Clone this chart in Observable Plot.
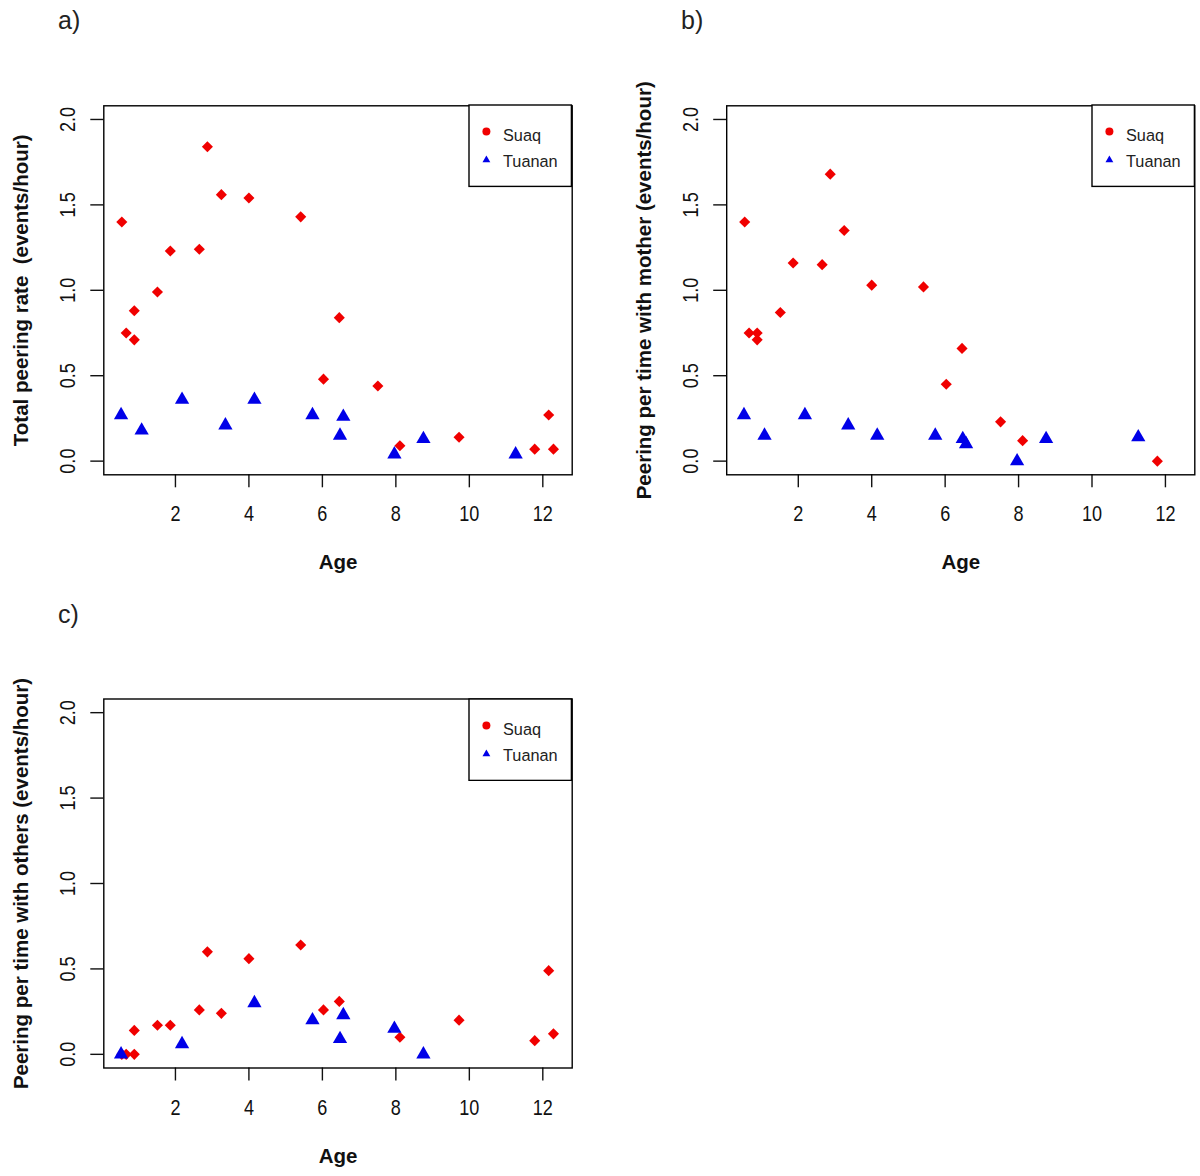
<!DOCTYPE html>
<html>
<head>
<meta charset="utf-8">
<script src="https://cdn.jsdelivr.net/npm/d3@7"></script>
<script src="https://cdn.jsdelivr.net/npm/@observablehq/plot@0.6"></script>
<style>
  body { margin: 0; background: #fff; }
  #page { position: relative; width: 1200px; height: 1176px; overflow: hidden; }
  #page > svg { position: absolute; }
</style>
</head>
<body>
<div id="page"></div>
<script>
// ages of the Suaq and Tuanan immatures (years)
const suaqAge   = [0.54, 0.66, 0.88, 0.88, 1.51, 1.86, 2.65, 2.87, 3.25, 4.00, 5.41, 6.03, 6.46, 7.51, 8.11, 9.72, 11.78, 12.16, 12.29]
const tuananAge = [0.52, 1.08, 2.18, 3.36, 4.15, 5.73, 6.48, 6.57, 7.96, 8.75, 11.26]

// peering rates (events/hour), null = not plotted
const suaqTotal    = [1.40, 0.75, 0.88, 0.71, 0.99, 1.23, 1.24, 1.84, 1.56, 1.54, 1.43, 0.48, 0.84, 0.44, 0.09, 0.14, 0.07, 0.27, 0.07]
const suaqMother   = [1.40, 0.75, 0.75, 0.71, 0.87, 1.16, 1.15, 1.68, 1.35, 1.03, 1.02, 0.45, 0.66, 0.23, 0.12, null, 0.00, null, null]
const suaqOthers   = [0.00, 0.00, 0.14, 0.00, 0.17, 0.17, 0.26, 0.60, 0.24, 0.56, 0.64, 0.26, 0.31, null, 0.10, 0.20, 0.08, 0.49, 0.12]
const tuananTotal  = [0.27, 0.18, 0.36, 0.21, 0.36, 0.27, 0.15, 0.26, 0.04, 0.13, 0.04]
const tuananMother = [0.27, 0.15, 0.27, 0.21, 0.15, 0.15, 0.13, 0.10, 0.00, 0.13, 0.14]
const tuananOthers = [0.00, null, 0.06, null, 0.30, 0.20, 0.09, 0.23, 0.15, 0.00, null]

const sites   = ["Suaq", "Tuanan"]
const xTicks  = [2, 4, 6, 8, 10, 12]
const yTicks  = [0, 0.5, 1, 1.5, 2]
const xTitle  = "Age"
const yTitles = ["Total peering rate  (events/hour)", "Peering per time with mother (events/hour)", "Peering per time with others (events/hour)"]
const tags    = ["a)", "b)", "c)"]

const red = "#f00000", blue = "#0000e8"
const sans = "'Liberation Sans', Arial, sans-serif"

const page = d3.select("#page")

function rows(ages, vals, site) {
  return ages.map((a, i) => ({age: a, rate: vals[i], site})).filter(d => d.rate != null)
}

// one R-style scatter panel
function panel({left, top, width, height, mt, mr, mb, ml, suaq, tuanan, yTitle, tag}) {
  const chart = Plot.plot({
    width, height,
    marginTop: mt, marginRight: mr, marginBottom: mb, marginLeft: ml,
    x: {domain: [0.05, 12.8]},
    y: {domain: [-0.08, 2.08]},
    style: {fontFamily: sans, fontSize: "22px", color: "#111", background: "transparent", overflow: "visible"},
    marks: [
      Plot.axisX({ticks: xTicks, tickSize: 13, tickPadding: 18, strokeWidth: 1.4, label: null}),
      Plot.axisY({ticks: yTicks, tickSize: 13, tickPadding: 16, tickRotate: -90, tickFormat: d3.format(".1f"), strokeWidth: 1.4, label: null}),
      Plot.dot(rows(suaqAge, suaq, "Suaq"), {x: "age", y: "rate", symbol: "diamond2", r: 5, fill: red}),
      Plot.dot(rows(tuananAge, tuanan, "Tuanan"), {x: "age", y: "rate", symbol: "triangle", r: 5.3, fill: blue}),
      Plot.frame({stroke: "#000", strokeWidth: 1.4}),
      Plot.text([xTitle], {text: d => d, frameAnchor: "bottom", dy: 88, lineAnchor: "middle", textAnchor: "middle", fontFamily: sans, fontWeight: "bold", fontSize: 20.5, fill: "#111"}),
      Plot.text([yTitle], {text: d => d, frameAnchor: "left", rotate: -90, dx: -82.5, lineAnchor: "middle", textAnchor: "middle", fontFamily: sans, fontWeight: "bold", fontSize: 20.5, fill: "#111"})
    ]
  })
  page.append(() => chart).style("left", left + "px").style("top", top + "px")

  // tick labels in the reference are a condensed face: squeeze them horizontally
  d3.select(chart).selectAll("g[aria-label$='tick label'] text").each(function () {
    const w = this.getComputedTextLength()
    this.setAttribute("textLength", w * 0.82)
    this.setAttribute("lengthAdjust", "spacingAndGlyphs")
  })

  // legend box in the top-right corner of the frame
  const fr = left + width - mr, ft = top + mt
  const lw = 102.4, lh = 81.4
  const lg = page.append("svg")
    .attr("width", lw + 2).attr("height", lh + 2)
    .style("left", (fr - lw - 1) + "px").style("top", (ft - 1) + "px")
  const g = lg.append("g").attr("transform", "translate(1,1)")
  g.append("rect").attr("width", lw).attr("height", lh)
    .attr("fill", "#fff").attr("stroke", "#000").attr("stroke-width", 1.4)
  g.append("circle").attr("cx", 17.4).attr("cy", 26.4).attr("r", 4).attr("fill", red)
  g.append("path").attr("d", d3.symbol(d3.symbolTriangle2, 44)())
    .attr("transform", "translate(17.4,55)").attr("fill", blue)
  g.selectAll("text").data(sites).join("text")
    .attr("x", 34).attr("y", (d, i) => 36.4 + i * 25.8)
    .attr("font-family", sans).attr("font-size", 16.3).attr("fill", "#222")
    .text(d => d)

  // panel letter
  const tg = page.append("svg").attr("width", 60).attr("height", 40)
    .style("left", (left + ml - 46) + "px").style("top", (top + mt - 105) + "px")
  tg.append("text").attr("x", 1).attr("y", 29)
    .attr("font-family", sans).attr("font-size", 25).attr("fill", "#222").text(tag)
}

panel({left: 0,   top: 0,   width: 600, height: 590, mt: 105.3, mr: 28.3, mb: 115.7, ml: 103.3, suaq: suaqTotal,  tuanan: tuananTotal,  yTitle: yTitles[0], tag: tags[0]})
panel({left: 600, top: 0,   width: 600, height: 590, mt: 105.3, mr: 5.7,  mb: 115.7, ml: 126.2, suaq: suaqMother, tuanan: tuananMother, yTitle: yTitles[1], tag: tags[1]})
panel({left: 0,   top: 590, width: 600, height: 586, mt: 108.5, mr: 28.3, mb: 108.5, ml: 103.3, suaq: suaqOthers, tuanan: tuananOthers, yTitle: yTitles[2], tag: tags[2]})
</script>
</body>
</html>
